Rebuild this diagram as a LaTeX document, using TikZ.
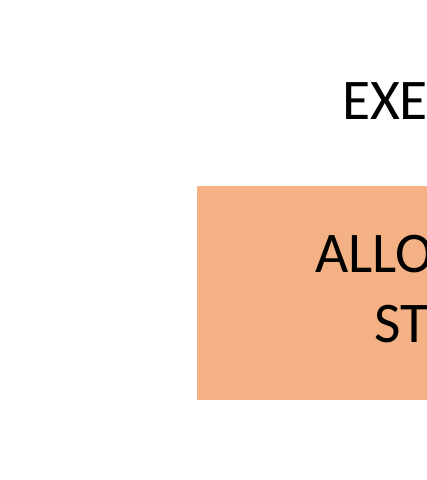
\documentclass[tikz,border=0pt]{standalone}
\usepackage{fontspec}
\setmainfont{Carlito}
\definecolor{boxorange}{HTML}{F4B183}
\begin{document}
\begin{tikzpicture}[x=1pt,y=-1pt,
  lbl/.style={anchor=base west,inner sep=0pt,outer sep=0pt,font=\fontsize{57.5}{70}\selectfont,text=black}]
\useasboundingbox (0,0) rectangle (427,480);
\clip (0,0) rectangle (427,480);
\fill[white] (0,0) rectangle (427,480);
\node[lbl] (exe) at (342,119) {EXE};
\fill[boxorange] (197,186) rectangle (440,400);
\node[lbl] (allo) at (315,272) {ALLO};
\node[lbl] (st) at (374,342) {ST};
\end{tikzpicture}
\end{document}
